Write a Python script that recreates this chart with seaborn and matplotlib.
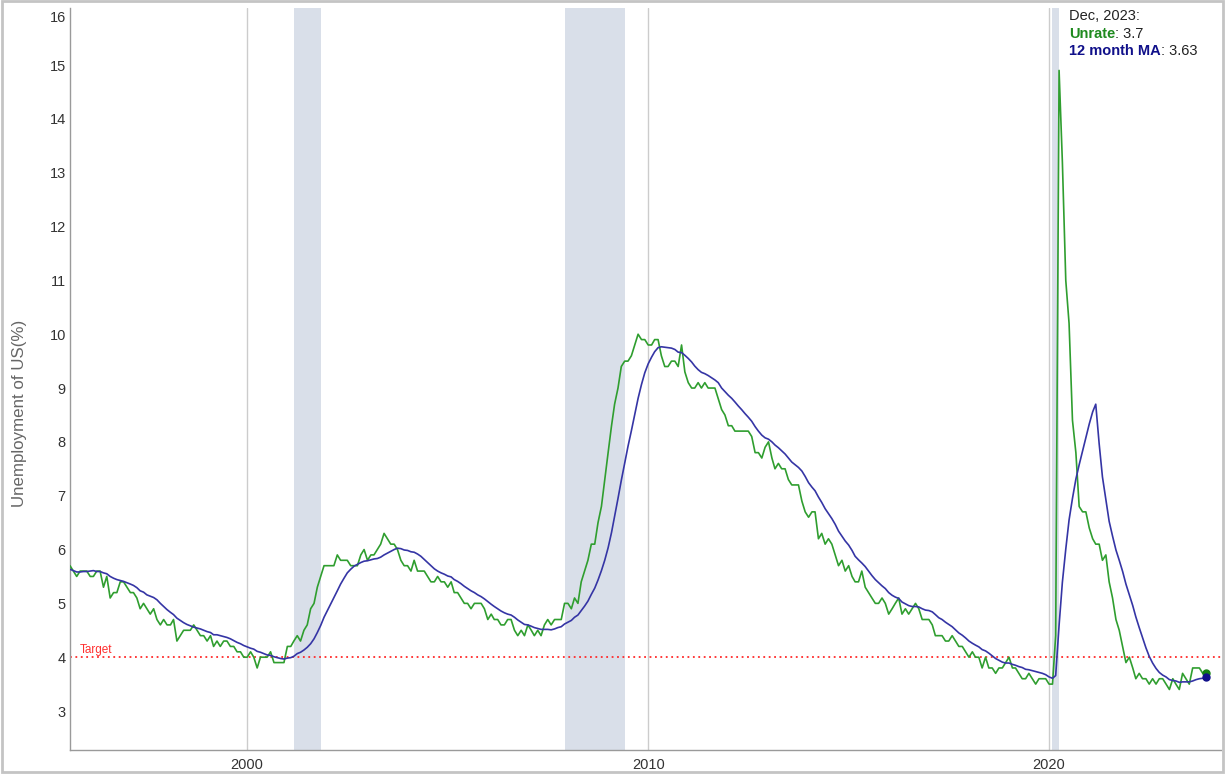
import matplotlib
matplotlib.use("Agg")
import matplotlib.pyplot as plt
import matplotlib.transforms as mtransforms
import pandas as pd
import seaborn as sns

sns.set_style("white")
plt.rcParams['font.family'] = ['Liberation Sans', 'DejaVu Sans']

# monthly US unemployment rate (%), Jan 1994 .. Dec 2023
unrate = [
    6.6, 6.6, 6.5, 6.4, 6.1, 6.1, 6.1, 6.0, 5.9, 5.8, 5.6, 5.5,   # 1994
    5.6, 5.4, 5.4, 5.8, 5.6, 5.6, 5.7, 5.7, 5.6, 5.5, 5.6, 5.6,   # 1995
    5.6, 5.5, 5.5, 5.6, 5.6, 5.3, 5.5, 5.1, 5.2, 5.2, 5.4, 5.4,   # 1996
    5.3, 5.2, 5.2, 5.1, 4.9, 5.0, 4.9, 4.8, 4.9, 4.7, 4.6, 4.7,   # 1997
    4.6, 4.6, 4.7, 4.3, 4.4, 4.5, 4.5, 4.5, 4.6, 4.5, 4.4, 4.4,   # 1998
    4.3, 4.4, 4.2, 4.3, 4.2, 4.3, 4.3, 4.2, 4.2, 4.1, 4.1, 4.0,   # 1999
    4.0, 4.1, 4.0, 3.8, 4.0, 4.0, 4.0, 4.1, 3.9, 3.9, 3.9, 3.9,   # 2000
    4.2, 4.2, 4.3, 4.4, 4.3, 4.5, 4.6, 4.9, 5.0, 5.3, 5.5, 5.7,   # 2001
    5.7, 5.7, 5.7, 5.9, 5.8, 5.8, 5.8, 5.7, 5.7, 5.7, 5.9, 6.0,   # 2002
    5.8, 5.9, 5.9, 6.0, 6.1, 6.3, 6.2, 6.1, 6.1, 6.0, 5.8, 5.7,   # 2003
    5.7, 5.6, 5.8, 5.6, 5.6, 5.6, 5.5, 5.4, 5.4, 5.5, 5.4, 5.4,   # 2004
    5.3, 5.4, 5.2, 5.2, 5.1, 5.0, 5.0, 4.9, 5.0, 5.0, 5.0, 4.9,   # 2005
    4.7, 4.8, 4.7, 4.7, 4.6, 4.6, 4.7, 4.7, 4.5, 4.4, 4.5, 4.4,   # 2006
    4.6, 4.5, 4.4, 4.5, 4.4, 4.6, 4.7, 4.6, 4.7, 4.7, 4.7, 5.0,   # 2007
    5.0, 4.9, 5.1, 5.0, 5.4, 5.6, 5.8, 6.1, 6.1, 6.5, 6.8, 7.3,   # 2008
    7.8, 8.3, 8.7, 9.0, 9.4, 9.5, 9.5, 9.6, 9.8, 10.0, 9.9, 9.9,  # 2009
    9.8, 9.8, 9.9, 9.9, 9.6, 9.4, 9.4, 9.5, 9.5, 9.4, 9.8, 9.3,   # 2010
    9.1, 9.0, 9.0, 9.1, 9.0, 9.1, 9.0, 9.0, 9.0, 8.8, 8.6, 8.5,   # 2011
    8.3, 8.3, 8.2, 8.2, 8.2, 8.2, 8.2, 8.1, 7.8, 7.8, 7.7, 7.9,   # 2012
    8.0, 7.7, 7.5, 7.6, 7.5, 7.5, 7.3, 7.2, 7.2, 7.2, 6.9, 6.7,   # 2013
    6.6, 6.7, 6.7, 6.2, 6.3, 6.1, 6.2, 6.1, 5.9, 5.7, 5.8, 5.6,   # 2014
    5.7, 5.5, 5.4, 5.4, 5.6, 5.3, 5.2, 5.1, 5.0, 5.0, 5.1, 5.0,   # 2015
    4.8, 4.9, 5.0, 5.1, 4.8, 4.9, 4.8, 4.9, 5.0, 4.9, 4.7, 4.7,   # 2016
    4.7, 4.6, 4.4, 4.4, 4.4, 4.3, 4.3, 4.4, 4.3, 4.2, 4.2, 4.1,   # 2017
    4.0, 4.1, 4.0, 4.0, 3.8, 4.0, 3.8, 3.8, 3.7, 3.8, 3.8, 3.9,   # 2018
    4.0, 3.8, 3.8, 3.7, 3.6, 3.6, 3.7, 3.6, 3.5, 3.6, 3.6, 3.6,   # 2019
    3.5, 3.5, 4.4, 14.9, 13.2, 11.0, 10.2, 8.4, 7.8, 6.8, 6.7, 6.7,  # 2020
    6.4, 6.2, 6.1, 6.1, 5.8, 5.9, 5.4, 5.1, 4.7, 4.5, 4.2, 3.9,   # 2021
    4.0, 3.8, 3.6, 3.7, 3.6, 3.6, 3.5, 3.6, 3.5, 3.6, 3.6, 3.5,   # 2022
    3.4, 3.6, 3.5, 3.4, 3.7, 3.6, 3.5, 3.8, 3.8, 3.8, 3.7, 3.7,   # 2023
]
first_month = "1994-01-01"
shown_from = "1995-08-01"

recessions = [("2001-03-01", "2001-11-01"),
              ("2007-12-01", "2009-06-01"),
              ("2020-02-01", "2020-04-01")]
target = 4
year_ticks = ["2000", "2010", "2020"]
y_ticks = list(range(3, 17))

tip_date = "Dec, 2023:"
tip_unrate = "3.7"
tip_ma = "3.63"

green = "#2f9e2f"
blue = "#3535a5"

dates = pd.date_range(first_month, periods=len(unrate), freq="MS")
df = pd.DataFrame({"date": dates, "Unrate": unrate})
df["12 month MA"] = df["Unrate"].rolling(12).mean()
df = df[df["date"] >= shown_from]

fig = plt.figure(figsize=(12.25, 7.74), dpi=100)
ax = fig.add_axes([70 / 1225, 24 / 774, 1151 / 1225, 742 / 774])

for start, end in recessions:
    ax.axvspan(pd.Timestamp(start), pd.Timestamp(end), color="#d9dfe9", lw=0, zorder=0)

sns.lineplot(data=df, x="date", y="Unrate", color=green, lw=1.2, ax=ax, zorder=3)
sns.lineplot(data=df, x="date", y="12 month MA", color=blue, lw=1.2, ax=ax, zorder=4)
last = df.iloc[-1]
ax.plot(last["date"], last["Unrate"], "o", color="#138013", ms=5, zorder=5)
ax.plot(last["date"], last["12 month MA"], "o", color="#10108a", ms=5, zorder=6)

ax.axhline(target, color="#ff2a2a", lw=1.3, ls=(0, (1, 2)), zorder=2)
ax.text(pd.Timestamp("1995-11-01"), target + 0.07, "Target", color="#ff3030", fontsize=8.5)

ax.set_xlim(pd.Timestamp(shown_from), pd.Timestamp("2024-04-15"))
ax.set_ylim(2.276, 16.06)
ax.set_xticks([pd.Timestamp(y + "-01-01") for y in year_ticks])
ax.set_xticklabels(year_ticks)
ax.set_yticks(y_ticks)
ax.xaxis.grid(True, color="#cccccc", lw=1)
ax.yaxis.grid(False)
ax.set_axisbelow(True)
ax.tick_params(length=0, labelsize=10.5, labelcolor="#333333")
ax.tick_params(axis="x", pad=6)
ax.tick_params(axis="y", pad=3)
ax.set_xlabel("")
ax.set_ylabel("Unemployment of US(%)", fontsize=12.2, color="#666666")
ax.yaxis.set_label_coords(-0.0374, 0.454)
# top tick label sits a little lower, as in the original
top_lbl = ax.get_yticklabels()[-1]
top_lbl.set_transform(top_lbl.get_transform() +
                      mtransforms.ScaledTranslation(0, -5 / 100, fig.dpi_scale_trans))
for side in ["top", "right"]:
    ax.spines[side].set_visible(False)
for side in ["left", "bottom"]:
    ax.spines[side].set_color("#9a9a9a")
    ax.spines[side].set_linewidth(1)

# tooltip in the top right corner
t0 = fig.text(1069 / 1225, 1 - 16 / 774, tip_date, fontsize=10.5, color="#222222", va="center")
t1 = fig.text(1069 / 1225, 1 - 34 / 774, "Unrate", fontsize=10.5, color="#1f8a1f",
              fontweight="bold", va="center")
ax.annotate(": " + tip_unrate, xy=(1, 0.5), xycoords=t1, va="center", fontsize=10.5, color="#222222")
t2 = fig.text(1069 / 1225, 1 - 51 / 774, "12 month MA", fontsize=10.5, color="#10108a",
              fontweight="bold", va="center")
ax.annotate(": " + tip_ma, xy=(1, 0.5), xycoords=t2, va="center", fontsize=10.5, color="#222222")

fig.add_artist(plt.Rectangle((0.002, 0.002), 0.996, 0.9965, transform=fig.transFigure,
                             fill=False, ec="#c4c4c4", lw=2))

fig.savefig("out.png", dpi=100)
